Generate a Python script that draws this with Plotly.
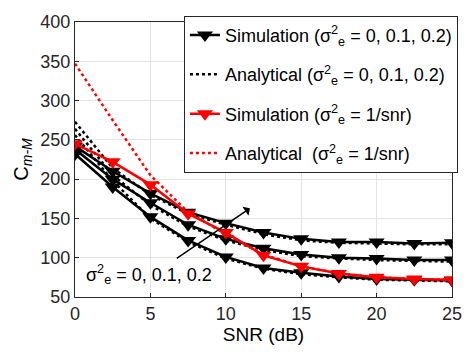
import plotly.graph_objects as go

snr = [0, 2.5, 5, 7.5, 10, 12.5, 15, 17.5, 20, 22.5, 25]

sim_s0 = [232, 190, 152, 122, 101, 87, 81, 76, 73, 72, 71]
sim_s1 = [238, 200, 170, 142, 124, 112, 104, 100, 99, 97, 97]
sim_s2 = [242, 210, 182, 158, 144, 132, 124, 120, 120, 118, 119]
ana_s0 = [256, 198, 150, 120, 99, 86, 79, 75, 72, 71, 70]
ana_s1 = [264, 205, 167, 140, 122, 110, 102, 99, 97, 96, 95]
ana_s2 = [273, 214, 180, 156, 142, 130, 122, 119, 118, 117, 117]
sim_snr = [245, 222, 193, 156, 132, 103, 89, 80, 75, 73, 72]
ana_snr = [347, 275, 205, 158, 130, 104, 89, 80, 75, 73, 72]

leg_sim = "Simulation (σ<sup>2</sup><sub>e</sub> = 0, 0.1, 0.2)"
leg_ana = "Analytical (σ<sup>2</sup><sub>e</sub> = 0, 0.1, 0.2)"
leg_sim_snr = "Simulation (σ<sup>2</sup><sub>e</sub> = 1/snr)"
leg_ana_snr = "Analytical  (σ<sup>2</sup><sub>e</sub> = 1/snr)"

fig = go.Figure()

black_sim = [sim_s0, sim_s1, sim_s2]
black_ana = [ana_s0, ana_s1, ana_s2]

for i, s in enumerate(black_ana):
    fig.add_trace(go.Scatter(x=snr, y=s, mode="lines",
                             line=dict(color="black", width=2.5, dash="dot"),
                             name=leg_ana, showlegend=False, legendgroup="b"))
for i, s in enumerate(black_sim):
    fig.add_trace(go.Scatter(x=snr, y=s, mode="lines+markers",
                             line=dict(color="black", width=2.5),
                             marker=dict(symbol="triangle-down", size=14, color="black"),
                             name=leg_sim, showlegend=(i == 0), legendgroup="a",
                             legendrank=1))
fig.add_trace(go.Scatter(x=[None], y=[None], mode="lines",
                         line=dict(color="black", width=2.5, dash="dot"),
                         name=leg_ana, legendgroup="b", legendrank=2))
fig.add_trace(go.Scatter(x=snr, y=sim_snr, mode="lines+markers",
                         line=dict(color="red", width=2.5),
                         marker=dict(symbol="triangle-down", size=14, color="red"),
                         name=leg_sim_snr, legendgroup="c", legendrank=3))
fig.add_trace(go.Scatter(x=snr, y=ana_snr, mode="lines",
                         line=dict(color="red", width=2.5, dash="dot"),
                         name=leg_ana_snr, legendgroup="d", legendrank=4))

fig.add_annotation(x=11.6, y=163, ax=6.65, ay=98, xref="x", yref="y",
                   axref="x", ayref="y", showarrow=True, arrowhead=1,
                   arrowsize=1.2, arrowwidth=1.5, arrowcolor="black", text="")
fig.add_annotation(x=0.6, y=79, xref="x", yref="y", showarrow=False,
                   xanchor="left",
                   text="σ<sup>2</sup><sub>e</sub> = 0, 0.1, 0.2",
                   font=dict(size=18, color="black"))

axis_common = dict(showgrid=True, gridcolor="#e3e3e3", gridwidth=1,
                   showline=True, linecolor="#262626", linewidth=1, mirror=True,
                   ticks="inside", ticklen=4, tickcolor="#262626",
                   tickfont=dict(size=18, color="#262626"), zeroline=False)

fig.update_layout(
    width=474, height=354,
    margin=dict(l=75, r=12, t=13, b=57),
    paper_bgcolor="white", plot_bgcolor="white",
    font=dict(family="Liberation Sans, Arial, sans-serif", color="black"),
    xaxis=dict(range=[0, 25], tickvals=[0, 5, 10, 15, 20, 25],
               title=dict(text="SNR (dB)", font=dict(size=19), standoff=4),
               **axis_common),
    yaxis=dict(range=[50, 400], tickvals=[50, 100, 150, 200, 250, 300, 350, 400],
               title=dict(text="C<sub><i>m-M</i></sub>", font=dict(size=20), standoff=6),
               **axis_common),
    legend=dict(x=0.289, y=1.023, xanchor="left", yanchor="top",
                bgcolor="white", bordercolor="#262626", borderwidth=1,
                font=dict(size=18, color="black"), tracegroupgap=13,
                itemwidth=30),
    showlegend=True,
)

fig.write_html("out.html")
